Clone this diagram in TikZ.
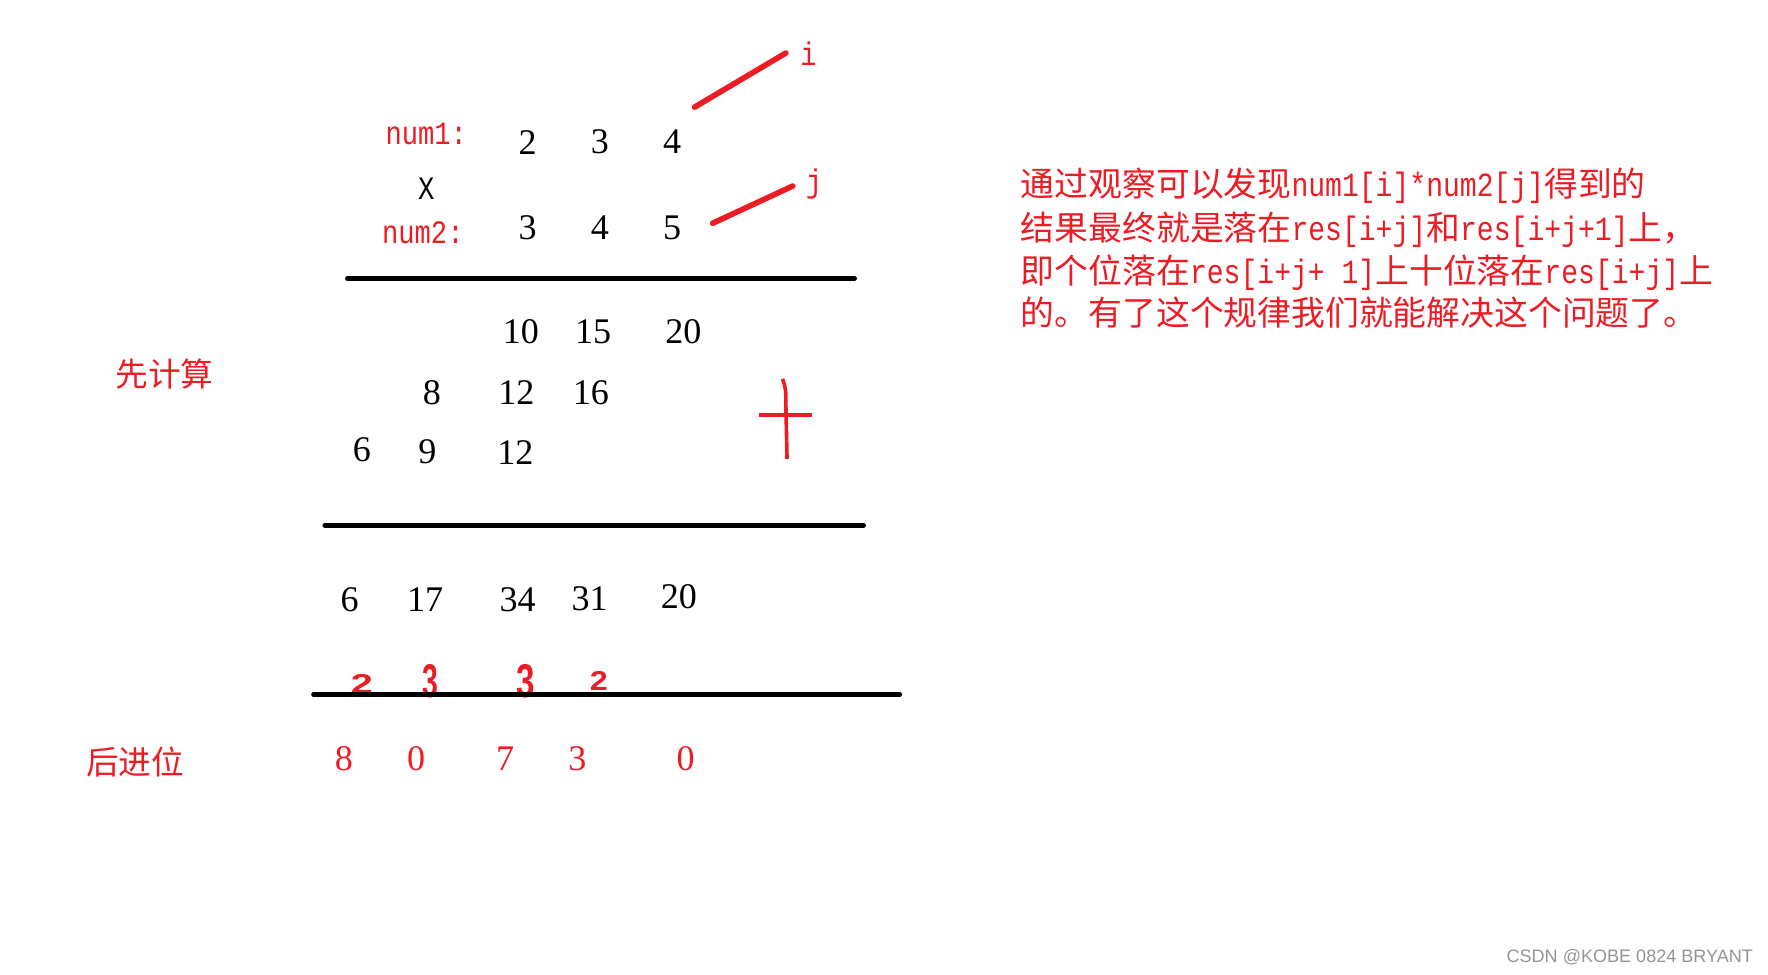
\documentclass[tikz,border=0pt]{standalone}
\usepackage{graphicx}
\usepackage{fontspec}
\setmainfont{Liberation Serif}
\newfontfamily\cjk{Noto Sans CJK SC}
\newfontfamily\monoF[FakeStretch=0.83]{Liberation Mono}
\newfontfamily\wmfont{Liberation Sans}
\newcommand\lat[1]{{\monoF #1}}
\definecolor{pred}{RGB}{237,28,36}
\begin{document}
\begin{tikzpicture}[x=0.5pt,y=-0.5pt,
  dig/.style={font=\fontsize{16}{16}\selectfont, inner sep=0pt},
  rdig/.style={dig, text=pred},
  lbl/.style={font=\monoF\fontsize{14.5}{14.5}\selectfont, text=pred, inner sep=0pt},
  cn/.style={font=\cjk\fontsize{14.5}{14.5}\selectfont, text=pred, inner sep=0pt},
  para/.style={font=\cjk\fontsize{15}{15}\selectfont, text=pred, inner sep=0pt, anchor=base west},
  rulebar/.style={line width=2pt, line cap=round},
  stroke/.style={pred, line width=2.5pt, line cap=round},
  carry/.style={font=\wmfont\bfseries\fontsize{11}{11}\selectfont, text=pred, inner sep=0pt},
  carrybig/.style={font=\wmfont\bfseries\fontsize{21}{21}\selectfont, text=pred, inner sep=0pt},
]
\useasboundingbox (0,0) rectangle (1568,864);
% labels
\node[lbl] (num1) at (378,119) {num1:};
\node[font=\monoF\fontsize{14.5}{14.5}\selectfont, inner sep=0pt] (times) at (378,167) {X};
\node[lbl] (num2) at (375,206) {num2:};
% operands
\node[dig] (a1) at (468,126) {2};
\node[dig] (a2) at (532,126) {3};
\node[dig] (a3) at (596,126) {4};
\node[dig] (b1) at (468,202) {3};
\node[dig] (b2) at (532,202) {4};
\node[dig] (b3) at (596,202) {5};
% i and j markers
\node[lbl] (ilbl) at (717,48) {i};
\node[lbl] (jlbl) at (722,163) {j};
\draw[stroke] (616,95) -- (697,47);
\draw[stroke] (632,198) -- (703,165);
% first rule
\draw[rulebar] (308,247) -- (758,247);
% partial products
\node[dig] (p11) at (462,294) {10};
\node[dig] (p12) at (526,294) {15};
\node[dig] (p13) at (606,294) {20};
\node[dig] (p21) at (383,348) {8};
\node[dig] (p22) at (458,348) {12};
\node[dig] (p23) at (524,348) {16};
\node[dig] (p31) at (321,399) {6};
\node[dig] (p32) at (379,401) {9};
\node[dig] (p33) at (457,401) {12};
\node[cn] (first) at (146,332) {先计算};
% plus sign
\draw[pred, line width=1.6pt] (694,336) .. controls (697,345) .. (697,360) -- (698,407);
\draw[pred, line width=1.6pt] (673,368) -- (720,368);
% second rule
\draw[rulebar] (288,466) -- (766,466);
% sums
\node[dig] (s1) at (310,532) {6};
\node[dig] (s2) at (377,532) {17};
\node[dig] (s3) at (459,532) {34};
\node[dig] (s4) at (523,531) {31};
\node[dig] (s5) at (602,529) {20};
% carries
\node[carry] (c1) at (321,607) {\scalebox{1.6}[1.1]{2}};
\node[carrybig] (c2) at (382,604) {\scalebox{0.6}[1]{3}};
\node[carrybig] (c3) at (466,604) {\scalebox{0.7}[1]{3}};
\node[carry] (c4) at (531,604) {\scalebox{1.3}[1.1]{2}};
% third rule
\draw[rulebar] (278,616) -- (798,616);
% result
\node[cn] (later) at (120,676) {后进位};
\node[rdig] (r1) at (305,673) {8};
\node[rdig] (r2) at (369,673) {0};
\node[rdig] (r3) at (448,673) {7};
\node[rdig] (r4) at (512,673) {3};
\node[rdig] (r5) at (608,673) {0};
% explanation
\node[para] (t1) at (905,174) {通过观察可以发现\lat{num1[i]*num2[j]}得到的};
\node[para] (t2) at (905,213) {结果最终就是落在\lat{res[i+j]}和\lat{res[i+j+1]}上，};
\node[para] (t3) at (905,251) {即个位落在\lat{res[i+j+ 1]}上十位落在\lat{res[i+j]}上};
\node[para] (t4) at (905,289) {的。有了这个规律我们就能解决这个问题了。};
% watermark
\node[font=\wmfont\fontsize{8}{8}\selectfont, text=black!42, inner sep=0pt, anchor=east] (wm) at (1555,849) {CSDN @KOBE 0824 BRYANT};
\end{tikzpicture}
\end{document}
